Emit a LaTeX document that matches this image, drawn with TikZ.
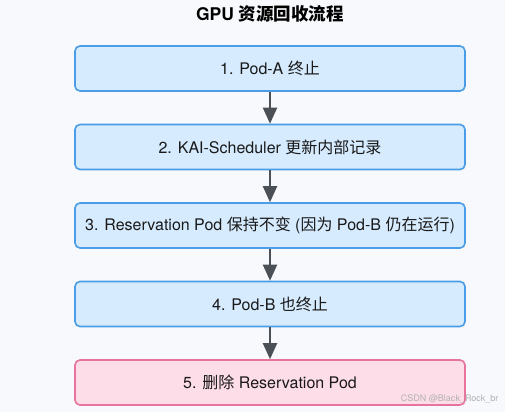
\documentclass[tikz,border=0pt]{standalone}
\usepackage{fontspec}
\setmainfont{TeX Gyre Heros}
\newfontfamily\cjk{Noto Sans CJK SC}
\usetikzlibrary{arrows.meta}
\definecolor{bgc}{HTML}{F7F9FC}
\definecolor{bluefill}{HTML}{D6EBFE}
\definecolor{blueline}{HTML}{4A9DE6}
\definecolor{pinkfill}{HTML}{FDDDE8}
\definecolor{pinkline}{HTML}{E8749C}
\definecolor{arrowc}{HTML}{4B5057}
\tikzset{
  stepbox/.style={draw=blueline, fill=bluefill, line width=1.6pt, rounded corners=5pt,
    minimum width=390pt, minimum height=45pt, inner sep=0pt, font=\fontsize{16pt}{18pt}\selectfont, text=black!90},
  endbox/.style={stepbox, draw=pinkline, fill=pinkfill},
  flow/.style={draw=arrowc, line width=2pt, -{Triangle[length=16pt,width=14pt]}, arrowc},
}
\begin{document}
\begin{tikzpicture}[x=1pt,y=1pt]
\fill[bgc] (0,0) rectangle (505,-412);
\useasboundingbox (0,0) rectangle (505,-412);
\node[font=\fontsize{17.5pt}{20pt}\selectfont\bfseries] (title) at (270,-14) {GPU {\cjk\bfseries 资源回收流程}};
\node[stepbox] (s1) at (270,-68.5) {1. Pod-A {\cjk 终止}};
\node[stepbox] (s2) at (270,-147) {2. KAI-Scheduler {\cjk 更新内部记录}};
\node[stepbox] (s3) at (270,-225.5) {3. Reservation Pod {\cjk 保持不变} ({\cjk 因为} Pod-B {\cjk 仍在运行})};
\node[stepbox] (s4) at (270,-304) {4. Pod-B {\cjk 也终止}};
\node[endbox] (s5) at (270,-382.5) {5. {\cjk 删除} Reservation Pod};
\draw[flow] (s1) -- (s2);
\draw[flow] (s2) -- (s3);
\draw[flow] (s3) -- (s4);
\draw[flow] (s4) -- (s5);
\node[anchor=east, font=\fontsize{9pt}{10pt}\selectfont, text=black!30] (wm) at (502,-399) {CSDN @Black\_Rock\_br};
\end{tikzpicture}
\end{document}
